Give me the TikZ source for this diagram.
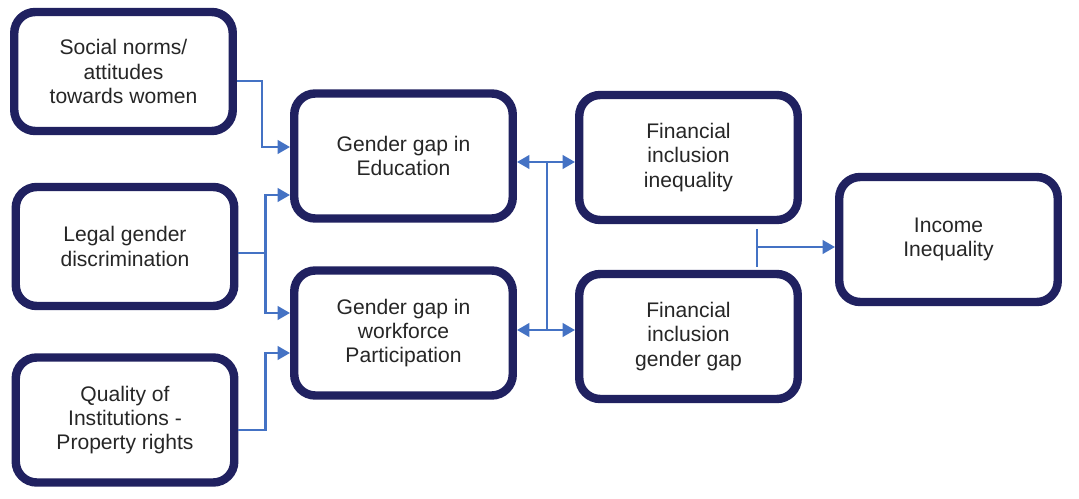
\documentclass[tikz,border=0pt]{standalone}
\usepackage{fontspec}
\setmainfont{Liberation Sans}
\usetikzlibrary{arrows.meta}
\definecolor{navy}{RGB}{32,33,96}
\definecolor{linkblue}{RGB}{68,114,196}
\definecolor{txt}{RGB}{38,38,38}

\begin{document}
\begin{tikzpicture}[scale=0.2]
    \tikzstyle{every node}+=[inner sep=0pt]
    \tikzstyle{box}=[draw=navy, line width=4.8pt, rounded corners=0.42cm, minimum width=4.37cm, minimum height=2.5cm, align=center, text=txt, font=\fontsize{12}{13.8}\selectfont]
    \tikzstyle{low}=[minimum height=2.38cm]
    \tikzstyle{link}=[linkblue, line width=1.5pt, -{Triangle[length=7pt,width=7.6pt]}]
    \useasboundingbox (0,0) rectangle (107.9,-49.9);
    \draw (12.35,-7.15) node [box, low] (soc) {Social norms/\\attitudes\\towards women};
    \draw (12.5,-24.65) node [box, low] (leg) {Legal gender\\discrimination};
    \draw (12.5,-42) node [box] (inst) {Quality of\\Institutions -\\Property rights};
    \draw (40.35,-15.6) node [box] (edu) {Gender gap in\\Education};
    \draw (40.35,-33.3) node [box] (work) {Gender gap in\\workforce\\Participation};
    \draw (68.85,-15.75) node [box] (fii) {Financial\\inclusion\\inequality};
    \draw (68.85,-33.65) node [box] (fig) {Financial\\inclusion\\gender gap};
    \draw (94.85,-23.95) node [box] (inc) {Income\\Inequality};
    \draw [link] ([yshift=-0.95cm]soc.east) -- ++(2.5,0) |- ([yshift=0.9cm]edu.west);
    \draw [link] ([yshift=-0.65cm]leg.east) -- ++(2.7,0) |- ([yshift=-3.9cm]edu.west);
    \draw [link] ([yshift=-0.65cm]leg.east) -- ++(2.7,0) |- ([yshift=2cm]work.west);
    \draw [link] ([yshift=-1cm]inst.east) -- ++(2.7,0) |- ([yshift=-2cm]work.west);
    \coordinate (mt) at (54.7,-16.2);
    \coordinate (mb) at (54.7,-33);
    \draw [linkblue, line width=1.5pt] (mt) -- (mb);
    \draw [link] (mt) -- (mt -| edu.east);
    \draw [link] (mt) -- (mt -| fii.west);
    \draw [link] (mb) -- (mb -| work.east);
    \draw [link] (mb) -- (mb -| fig.west);
    \coordinate (jt) at (75.7,-22.9);
    \coordinate (jb) at (75.7,-26.7);
    \coordinate (j) at (75.7,-24.7);
    \draw [linkblue, line width=0.8pt] (jt) -- (jb);
    \draw [link] (j) -- (j -| inc.west);
\end{tikzpicture}
\end{document}
